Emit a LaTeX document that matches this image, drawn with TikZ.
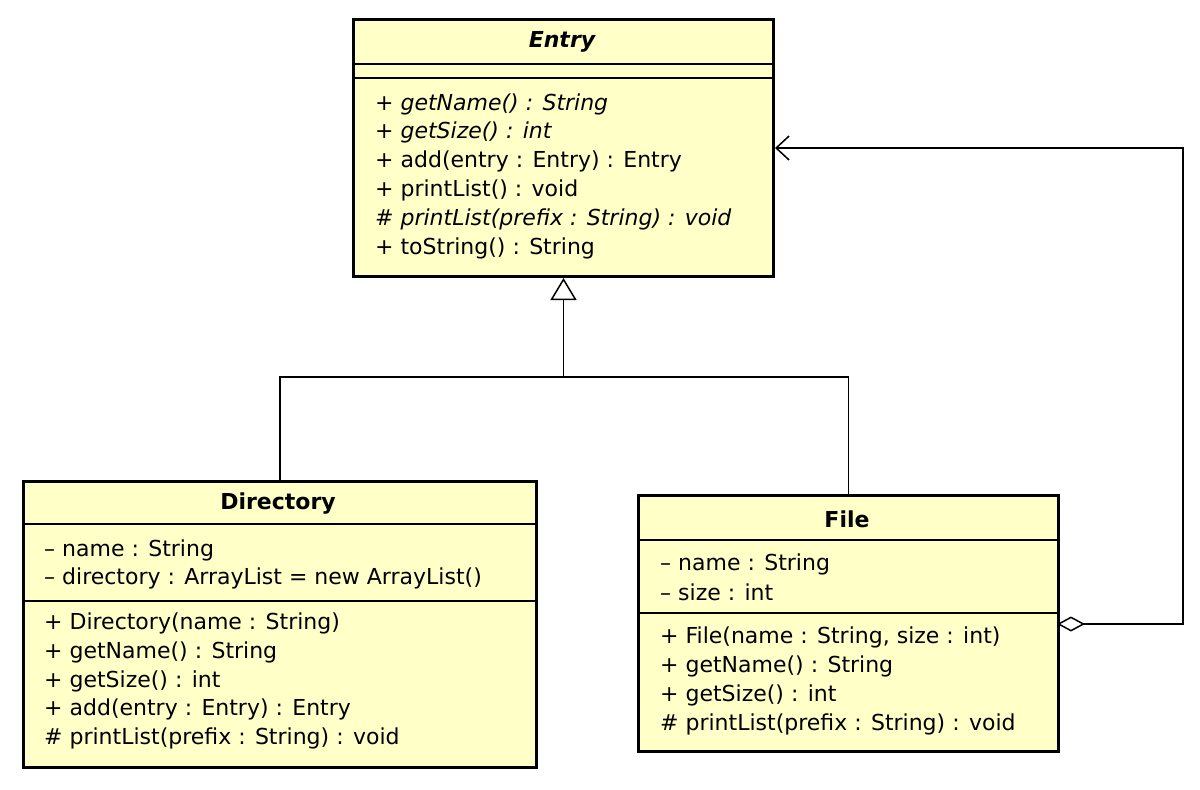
\documentclass[tikz,border=0pt]{standalone}
\usepackage{fontspec}
\setmainfont{DejaVu Sans}
\usetikzlibrary{arrows.meta}
\definecolor{umlfill}{HTML}{FFFFC8}
\newcommand{\umlfont}{\fontsize{22}{26}\selectfont}

\begin{document}
\begin{tikzpicture}[x=1pt,y=-1pt,
    box/.style={draw, line width=3pt, fill=umlfill, anchor=north west, inner sep=0pt},
    txt/.style={anchor=west, inner sep=0pt, font=\umlfont},
    ttl/.style={inner sep=0pt, font=\umlfont\bfseries},
    sep/.style={line width=1.2pt}]
    \useasboundingbox (0,0) rectangle (1200,790);

    % Entry
    \node[box, minimum width=420pt, minimum height=257pt] (entry) at (352,18) {};
    \node[ttl, font=\umlfont\bfseries\itshape] (entryname) at (562,42) {Entry};
    \draw[sep] (352,64) -- (772,64) (352,78) -- (772,78);
    \node[txt, font=\umlfont\itshape] (em1) at (375,104) {+ getName() : String};
    \node[txt, font=\umlfont\itshape] (em2) at (375,132) {+ getSize() : int};
    \node[txt] (em3) at (375,161) {+ add(entry : Entry) : Entry};
    \node[txt] (em4) at (375,190) {+ printList() : void};
    \node[txt, font=\umlfont\itshape] (em5) at (375,219) {\# printList(prefix : String) : void};
    \node[txt] (em6) at (375,248) {+ toString() : String};

    % Directory
    \node[box, minimum width=513pt, minimum height=286pt] (dir) at (22,480) {};
    \node[ttl] (dirname) at (278,504) {Directory};
    \draw[sep] (22,524) -- (535,524) (22,601) -- (535,601);
    \node[txt] (da1) at (44,550) {– name : String};
    \node[txt] (da2) at (44,578) {– directory : ArrayList = new ArrayList()};
    \node[txt] (dm1) at (44,623) {+ Directory(name : String)};
    \node[txt] (dm2) at (44,652) {+ getName() : String};
    \node[txt] (dm3) at (44,681) {+ getSize() : int};
    \node[txt] (dm4) at (44,709) {+ add(entry : Entry) : Entry};
    \node[txt] (dm5) at (44,738) {\# printList(prefix : String) : void};

    % File
    \node[box, minimum width=420pt, minimum height=256pt] (file) at (637,494) {};
    \node[ttl] (filename) at (847,519) {File};
    \draw[sep] (637,540) -- (1057,540) (637,613) -- (1057,613);
    \node[txt] (fa1) at (660,564) {– name : String};
    \node[txt] (fa2) at (660,592) {– size : int};
    \node[txt] (fm1) at (660,637) {+ File(name : String, size : int)};
    \node[txt] (fm2) at (660,666) {+ getName() : String};
    \node[txt] (fm3) at (660,695) {+ getSize() : int};
    \node[txt] (fm4) at (660,724) {\# printList(prefix : String) : void};

    % generalization
    \coordinate (joint) at (entry.south |- 0,377);
    \draw[line width=1.5pt, -{Triangle[open, length=22pt, width=26pt]}]
      (dir.north) |- (joint) -- (entry.south);
    \draw[line width=1.5pt] (file.north) |- (joint);

    % aggregation
    \coordinate (aggr) at (1057,624);
    \coordinate (corner1) at (1183,624);
    \coordinate (corner2) at (1183,148);
    \draw[line width=1.5pt, {Diamond[open, length=28pt, width=15pt]}-{Straight Barb[length=13pt, width=24pt]}]
      (aggr) -- (corner1) -- (corner2) -- (entry.east |- corner2);
\end{tikzpicture}
\end{document}
